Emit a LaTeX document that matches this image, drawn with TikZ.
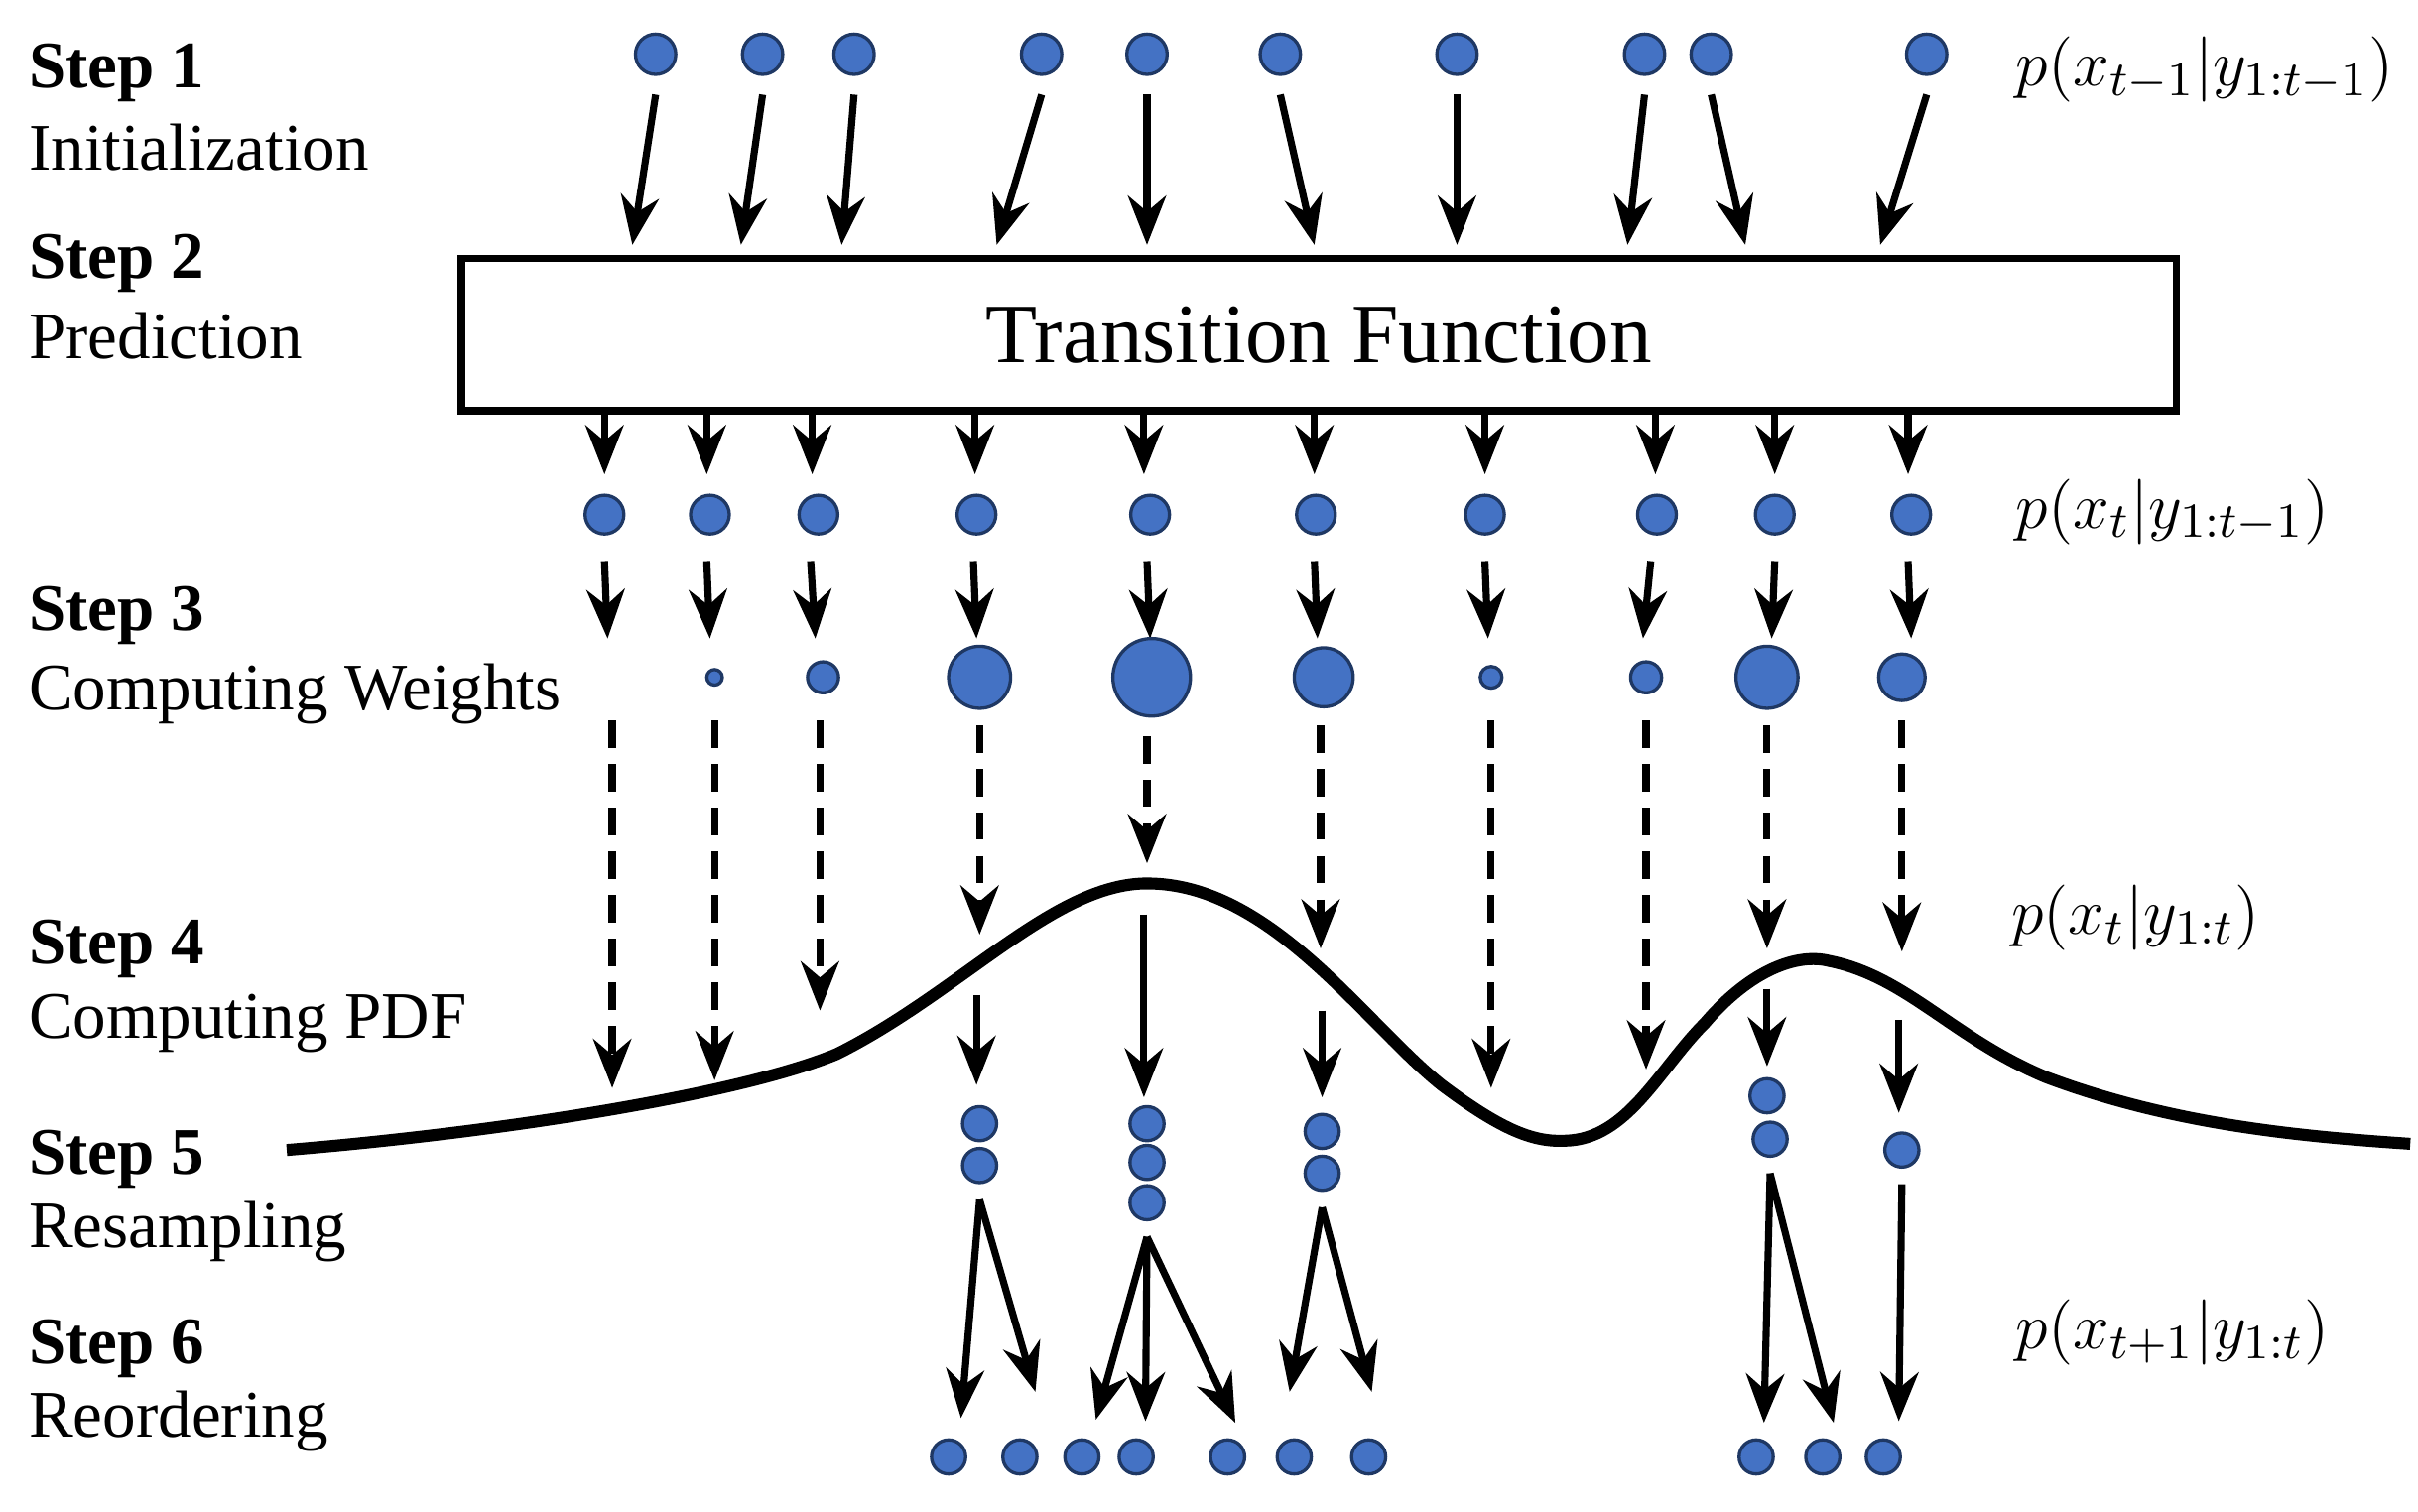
\documentclass[tikz,border=0pt]{standalone}
\usepackage{fontspec}
\setmainfont{Liberation Serif}
\usetikzlibrary{arrows.meta}
\definecolor{dotblue}{HTML}{4472C4}
\definecolor{dotedge}{HTML}{1F3864}
\begin{document}
\begin{tikzpicture}[x=0.01cm,y=-0.01cm,
  dot/.style={circle,fill=dotblue,draw=dotedge,line width=0.6pt,inner sep=0pt,minimum size=#1},
  dot/.default=0.24cm,
  arr/.style={line width=1.3pt,-{Stealth[length=9pt,width=7pt]}},
  darr/.style={arr,dashed,dash pattern=on 5pt off 3pt},
  lbl/.style={anchor=west,font=\fontsize{12.2}{14}\selectfont,inner sep=0pt},
  math/.style={anchor=west,font=\fontsize{12.8}{15}\selectfont,inner sep=0pt}]
\useasboundingbox (0,0) rectangle (1560,975);
% labels
\foreach \n/\y/\t in {s1/47/Step 1,s2/170/Step 2,s3/397/Step 3,s4/612/Step 4,s5/748/Step 5,s6/870/Step 6}
  \node[lbl,font=\fontsize{12.2}{14}\selectfont\bfseries] (\n) at (18,\y) {\t};
\foreach \n/\y/\t in {l1/95/Initialization,l2/217/Prediction,l3/448/Computing Weights,l4/660/Computing PDF,l5/795/Resampling,l6/917/Reordering}
  \node[lbl] (\n) at (18,\y) {\t};
\node[math] (m1) at (1300,45) {$p(x_{t-1}|y_{1:t-1})$};
\node[math] (m2) at (1300,330) {$p(x_{t}|y_{1:t-1})$};
\node[math] (m3) at (1297,592) {$p(x_{t}|y_{1:t})$};
\node[math] (m4) at (1300,860) {$p(x_{t+1}|y_{1:t})$};
% box
\node[draw,line width=1.3pt,minimum width=11.06cm,minimum height=0.98cm,inner sep=0pt,
  font=\fontsize{15.5}{18}\selectfont] (tf) at (851,216) {Transition Function};
% step 1
\foreach \i/\x/\ex in {1/423/408,2/492/478,3/551/543,4/672/643,5/740/740,6/826/848,7/940/940,8/1061/1050,9/1104/1126,10/1243/1213}{
  \node[dot=0.26cm] (a\i) at (\x,35) {};
  \coordinate (ae\i) at (\ex,158);
  \draw[arr] ([yshift=-0.12cm]a\i.south) -- (ae\i);
}
% step 2
\foreach \i/\x/\bx in {1/390/390,2/458/456,3/528/524,4/630/629,5/742/738,6/849/848,7/958/958,8/1069/1068,9/1145/1145,10/1233/1231}{
  \coordinate (bs\i) at (\bx,265);
  \coordinate (be\i) at (\bx,306);
  \draw[arr] (bs\i) -- (be\i);
  \node[dot=0.25cm] (b\i) at (\x,332) {};
}
% step 3
\foreach \i/\sx/\ex/\x/\r/\dy/\dx in {1/390/392/392/0/465/395,2/456/458/461/0.1/465/461,3/523/526/531/0.2/465/529,4/628/630/632/0.4/468/632,5/740/742/743/0.5/475/740,6/848/850/854/0.38/468/852,7/958/960/962/0.14/465/962,8/1065/1060/1062/0.2/465/1062,9/1145/1143/1140/0.4/468/1140,10/1231/1233/1227/0.3/465/1227}{
  \coordinate (cs\i) at (\sx,362);
  \coordinate (ce\i) at (\ex,412);
  \draw[arr] (cs\i) -- (ce\i);
  \ifdim \r pt>0pt \node[dot=\r cm] (c\i) at (\x,437) {};\fi
  \coordinate (ds\i) at (\dx,\dy);
}
\foreach \i/\x/\y in {1/395/702,2/461/697,3/529/652,4/632/603,5/740/557,6/852/612,7/962/702,8/1062/690,9/1140/612,10/1227/614}{
  \coordinate (dd\i) at (\x,\y);
  \draw[darr] (ds\i) -- (dd\i);
}
% pdf curve
\draw[line width=2.2pt] (185,742) .. controls (330,730) and (480,705) .. (540,680)
  .. controls (620,640) and (680,570) .. (740,570)
  .. controls (820,570) and (880,660) .. (930,700)
  .. controls (970,730) and (990,737) .. (1010,736)
  .. controls (1050,735) and (1070,690) .. (1100,660)
  .. controls (1130,625) and (1160,615) .. (1180,620)
  .. controls (1230,630) and (1260,670) .. (1320,695)
  .. controls (1400,725) and (1480,733) .. (1555,738);
% step 5
\foreach \i/\x/\ys/\ye in {1/630/642/700,2/738/590/708,3/853/652/708,4/1140/638/688,5/1225/658/718}{
  \coordinate (es\i) at (\x,\ys);
  \coordinate (ee\i) at (\x,\ye);
  \draw[arr] (es\i) -- (ee\i);
}
\foreach \n/\x/\y in {r1/632/725,r2/632/752,r3/740/725,r4/740/750,r5/740/776,r6/853/730,r7/853/757,r8/1140/707,r9/1142/735,r10/1227/742}
  \node[dot=0.22cm] (\n) at (\x,\y) {};
% step 6
\foreach \n/\x in {f1/612,f2/658,f3/698,f4/733,f5/792,f6/835,f7/883,f8/1133,f9/1176,f10/1215}
  \node[dot=0.22cm] (\n) at (\x,940) {};
\foreach \s/\t/\tx/\ty in {r2/t1/620/915,r2/t2/668/898,r5/t3/707/916,r5/t4/739/917,r5/t5/797/918,r7/t6/832/898,r7/t7/885/898,r9/t8/1138/918,r9/t9/1183/918,r10/t10/1225/917}{
  \coordinate (\t) at (\tx,\ty);
  \draw[arr] ([yshift=-0.1cm]\s.south) -- (\t);
}
\end{tikzpicture}
\end{document}
